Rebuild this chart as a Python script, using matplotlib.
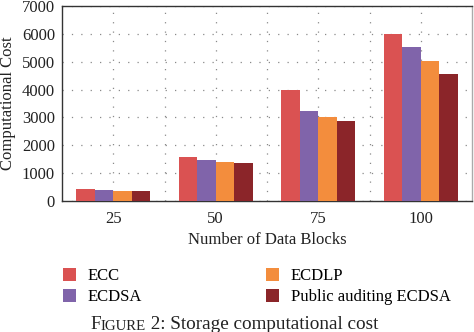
import matplotlib.pyplot as plt
import numpy as np

plt.rcParams['font.family'] = ['Liberation Serif', 'DejaVu Serif']

blocks = ['25', '50', '75', '100']
series = ['ECC', 'ECDSA', 'ECDLP', 'Public auditing ECDSA']
ecc = [430, 1580, 4000, 6010]
ecdsa = [400, 1470, 3240, 5540]
ecdlp = [370, 1400, 3000, 5010]
public = [350, 1370, 2860, 4570]
colors = ['#da5252', '#8064aa', '#f38d3d', '#8b2529']

fs = 12
fig = plt.figure(figsize=(4.74, 3.32), dpi=100)
ax = fig.add_axes([62 / 474, 131 / 332, 410 / 474, 195 / 332])

x = np.arange(len(blocks))
w = 0.18
values = [ecc, ecdsa, ecdlp, public]
for i, (vals, name, c) in enumerate(zip(values, series, colors)):
    ax.bar(x + (i - 1.5) * w, vals, w, color=c, label=name, zorder=3)

ax.set_xlim(-0.5, 3.5)
ax.set_ylim(0, 7000)
ax.set_xticks(x)
ax.set_xticklabels(blocks)
ax.set_xticks(x[:-1] + 0.5, minor=True)
ax.set_yticks(np.arange(0, 7001, 1000))
ax.tick_params(axis='both', which='both', length=0, labelsize=fs, colors='#222222')
ax.tick_params(axis='x', pad=7)
ax.tick_params(axis='y', pad=5)
ax.grid(True, which='both', linestyle=(0, (1, 6.5)), color='#8a8a8a', linewidth=0.9, zorder=0)
for s in ax.spines.values():
    s.set_linewidth(1.0)
    s.set_color('#333333')
ax.spines['right'].set_color('#aaaaaa')
ax.set_xlabel('Number of Data Blocks', fontsize=fs, color='#222222', labelpad=4)
ax.set_ylabel('Computational Cost', fontsize=fs, color='#222222', labelpad=4)

fig.legend(loc='upper left', bbox_to_anchor=(48 / 474, 1 - 253 / 332), ncol=2,
           frameon=False, fontsize=fs, handlelength=0.8, handleheight=0.8,
           columnspacing=7.4, labelspacing=0.3, handletextpad=0.7)

# caption with small caps "Figure"
cap = 13.8
t1 = fig.text(90 / 474, 1 - 329 / 332, 'F', fontsize=cap, va='baseline', color='#222222')
t2 = ax.annotate('IGURE', xy=(1, 0), xycoords=t1, fontsize=cap * 0.78, va='bottom',
                 color='#222222', annotation_clip=False)
ax.annotate(' 2: Storage computational cost', xy=(1, 0), xycoords=t2, fontsize=cap,
            va='bottom', color='#222222', annotation_clip=False)

fig.savefig('out.png', dpi=100)
